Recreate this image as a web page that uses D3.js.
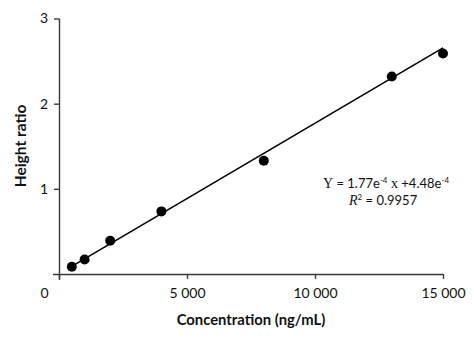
<!DOCTYPE html>
<html><head><meta charset="utf-8">
<script src="https://cdn.jsdelivr.net/npm/d3@7"></script>
<style>
body{margin:0;background:#fff;}
svg{display:block;}
</style></head>
<body>
<svg id="chart" width="474" height="340"></svg>
<script>
const concentrations = [500, 1000, 2000, 4000, 8000, 13000, 15000];
const heightRatios = [0.086, 0.17, 0.39, 0.735, 1.33, 2.32, 2.59];
const xTicks = [0, 5000, 10000, 15000];
const yTicks = [1, 2, 3];
const slope = 1.77e-4;
const intercept = 4.48e-4;
const fitRange = [500, 15000];
const xTitle = "Concentration (ng/mL)";
const yTitle = "Height ratio";

const svg = d3.select("#chart");
const font = "Lato, 'Liberation Sans', sans-serif";
const axisColor = "#3a3a3a";

const x = d3.scaleLinear().domain([0, 15000]).range([59, 443]);
const y = d3.scaleLinear().domain([0, 3]).range([274, 18.5]);

const loc = d3.formatLocale({decimal: ".", thousands: " ", grouping: [3], currency: ["", ""]});
const fmt = loc.format(",d");

// x axis
const gx = svg.append("g").attr("transform", `translate(0,${y(0)})`)
  .call(d3.axisBottom(x).tickValues(xTicks).tickFormat(fmt).tickSize(5).tickPadding(9).tickSizeOuter(0));
gx.select(".domain").attr("stroke", axisColor).attr("stroke-width", 1.4)
  .attr("d", `M${x(0)-6},0.5H${x(15000)}`);
gx.selectAll(".tick line").attr("stroke", axisColor).attr("stroke-width", 1.4);
gx.selectAll(".tick text").attr("fill", "#111").style("font-family", font).style("font-size", "14px");
gx.selectAll(".tick").filter(d => d === 0).select("text").attr("dx", -15);

// y axis
const gy = svg.append("g").attr("transform", `translate(${x(0)},0)`)
  .call(d3.axisLeft(y).tickValues(yTicks).tickFormat(d3.format("d")).tickSize(5).tickPadding(6).tickSizeOuter(0));
gy.select(".domain").attr("stroke", axisColor).attr("stroke-width", 1.4)
  .attr("d", `M0.5,${y(3)}V${y(0)+6}`);
gy.selectAll(".tick line").attr("stroke", axisColor).attr("stroke-width", 1.4);
gy.selectAll(".tick text").attr("fill", "#111").style("font-family", font).style("font-size", "14px");

// fit line
svg.append("line")
  .attr("x1", x(fitRange[0])).attr("y1", y(slope*fitRange[0]+intercept))
  .attr("x2", x(fitRange[1])).attr("y2", y(slope*fitRange[1]+intercept))
  .attr("stroke", "#000").attr("stroke-width", 1.6);

// points
svg.append("g").selectAll("circle").data(concentrations).join("circle")
  .attr("cx", d => x(d)).attr("cy", (d,i) => y(heightRatios[i]))
  .attr("r", 5).attr("fill", "#000");

// titles
svg.append("text").attr("x", 251).attr("y", 325).attr("text-anchor", "middle")
  .style("font-family", font).style("font-size", "14.8px").style("font-weight", "bold")
  .attr("fill", "#111").text(xTitle);
svg.append("text").attr("transform", "translate(26,146) rotate(-90)").attr("text-anchor", "middle")
  .style("font-family", font).style("font-size", "15.5px").style("font-weight", "bold")
  .attr("fill", "#111").text(yTitle);

// equation
const eq = svg.append("text").attr("x", 323).attr("y", 188)
  .style("font-family", font).style("font-size", "13px").attr("fill", "#111");
eq.append("tspan").style("font-family", "'Liberation Serif', serif").style("font-size", "14px").text("Y");
eq.append("tspan").text(" = 1.77e");
eq.append("tspan").attr("dy", -5).style("font-size", "8px").text("-4");
eq.append("tspan").attr("dy", 5).style("font-family", "'Liberation Serif', serif").style("font-size", "14px").text(" x");
eq.append("tspan").text(" +4.48e");
eq.append("tspan").attr("dy", -5).style("font-size", "8px").text("-4");

const r2 = svg.append("text").attr("x", 349).attr("y", 205)
  .style("font-family", font).style("font-size", "13px").attr("fill", "#111");
r2.append("tspan").style("font-family", "'Liberation Serif', serif").style("font-style", "italic").style("font-size", "14px").text("R");
r2.append("tspan").attr("dy", -5).style("font-size", "8px").text("2");
r2.append("tspan").attr("dy", 5).text(" = 0.9957");
</script>
</body></html>
